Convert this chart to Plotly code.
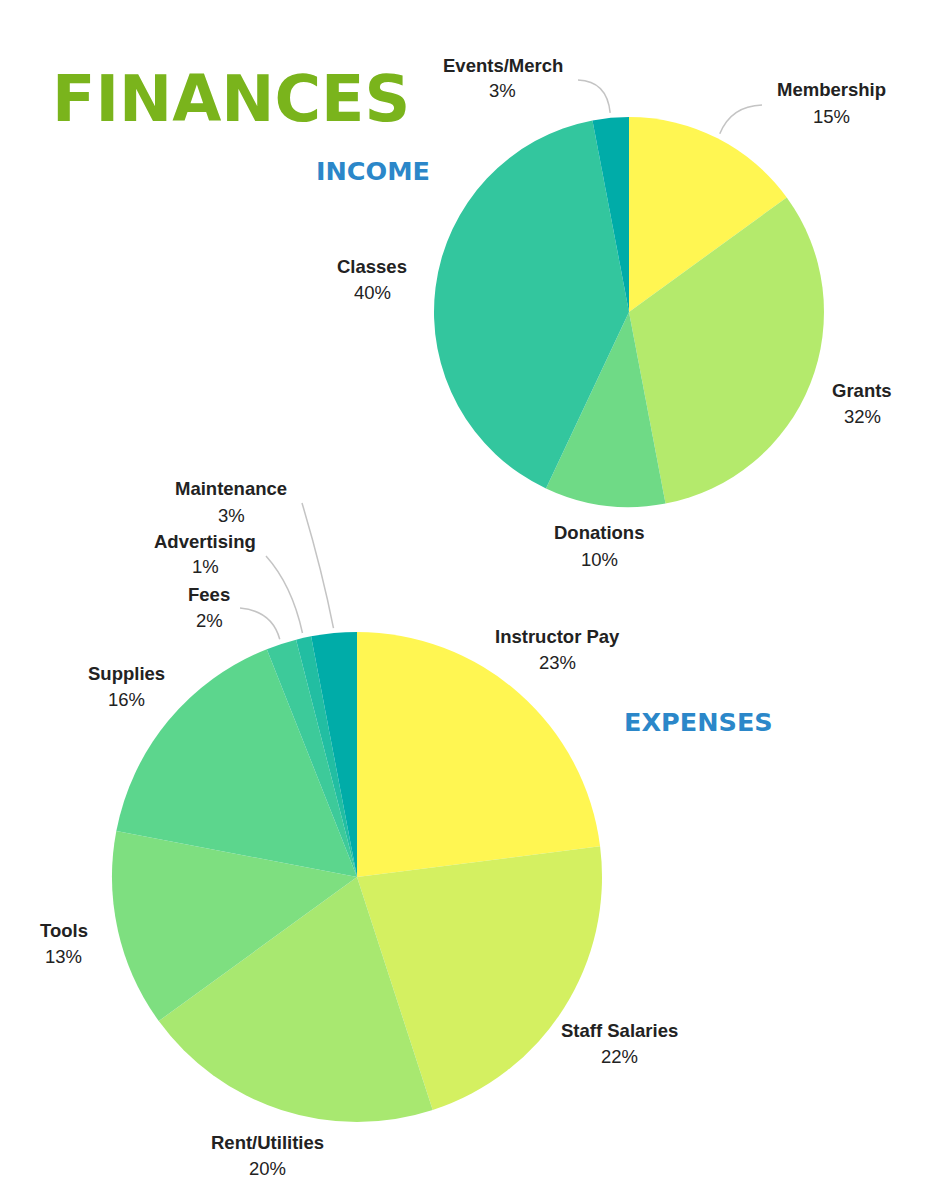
import math
import plotly.graph_objects as go

W, H = 927, 1200

# ---------------- data ----------------
income_labels = ["Membership", "Grants", "Donations", "Classes", "Events/Merch"]
income_values = [15, 32, 10, 40, 3]
income_colors = ["#FFF652", "#B4EA6C", "#6FDA86", "#33C69E", "#00ACA8"]

expense_labels = ["Instructor Pay", "Staff Salaries", "Rent/Utilities", "Tools",
                  "Supplies", "Fees", "Advertising", "Maintenance"]
expense_values = [23, 22, 20, 13, 16, 2, 1, 3]
expense_colors = ["#FFF652", "#D4F061", "#A8E870", "#7EDF80", "#5CD68D",
                  "#3DCA9A", "#22BEA2", "#00ACA8"]

# ---------------- layout (pixels) ----------------
inc_c, inc_r = (629, 312), 195
exp_c, exp_r = (357, 877), 245

# label name-line positions (percent line is +26 px)
inc_label_pos = {"Membership": (831, 90), "Grants": (862, 391), "Donations": (599, 533),
                 "Classes": (372, 266), "Events/Merch": (503, 65)}
exp_label_pos = {"Instructor Pay": (557, 636), "Staff Salaries": (619, 1030),
                 "Rent/Utilities": (267, 1142), "Tools": (64, 930), "Supplies": (126, 673),
                 "Fees": (209, 594), "Advertising": (205, 541), "Maintenance": (231, 489)}
# leader lines: (control point, end point) in px
inc_leaders = {"Membership": ((731, 106), (762, 105)), "Events/Merch": ((607, 81), (578, 80))}
exp_leaders = {"Maintenance": ((322, 570), (302, 503)), "Advertising": ((292, 585), (266, 556)),
               "Fees": ((272, 611), (240, 608))}


def px(x):
    return x / W


def py(y):
    return 1 - y / H


def domain(c, r):
    return dict(x=[px(c[0] - r), px(c[0] + r)], y=[py(c[1] + r), py(c[1] - r)])


fig = go.Figure()
fig.add_trace(go.Pie(labels=income_labels, values=income_values, sort=False,
                     direction="clockwise", rotation=0,
                     marker=dict(colors=income_colors, line=dict(width=0)),
                     textinfo="none", hoverinfo="label+percent",
                     domain=domain(inc_c, inc_r), showlegend=False))
fig.add_trace(go.Pie(labels=expense_labels, values=expense_values, sort=False,
                     direction="clockwise", rotation=0,
                     marker=dict(colors=expense_colors, line=dict(width=0)),
                     textinfo="none", hoverinfo="label+percent",
                     domain=domain(exp_c, exp_r), showlegend=False))

annotations = []
shapes = []


def add_labels(labels, values, centre, radius, pos, leaders):
    total = sum(values)
    cum = 0
    for lab, v in zip(labels, values):
        mid = (cum + v / 2) / total * 2 * math.pi
        cum += v
        pct = round(v / total * 100)
        x, y = pos[lab]
        annotations.append(dict(x=px(x), y=py(y), xref="paper", yref="paper",
                                text="<b>%s</b>" % lab, showarrow=False,
                                xanchor="center", yanchor="middle",
                                font=dict(family="Liberation Sans, Arial", size=18.5, color="#222222")))
        annotations.append(dict(x=px(x), y=py(y + 26), xref="paper", yref="paper",
                                text="%d%%" % pct, showarrow=False,
                                xanchor="center", yanchor="middle",
                                font=dict(family="Liberation Sans, Arial", size=18.5, color="#222222")))
        if lab in leaders:
            sx = centre[0] + (radius + 5) * math.sin(mid)
            sy = centre[1] - (radius + 5) * math.cos(mid)
            (cx, cy), (ex, ey) = leaders[lab]
            path = "M %f,%f Q %f,%f %f,%f" % (px(sx), py(sy), px(cx), py(cy), px(ex), py(ey))
            shapes.append(dict(type="path", path=path, xref="paper", yref="paper",
                               line=dict(color="#C4C4C4", width=1.5)))


add_labels(income_labels, income_values, inc_c, inc_r, inc_label_pos, inc_leaders)
add_labels(expense_labels, expense_values, exp_c, exp_r, exp_label_pos, exp_leaders)

annotations.append(dict(x=px(50), y=py(99), xref="paper", yref="paper", text="<b>FINANCES</b>",
                        showarrow=False, xanchor="left", yanchor="middle",
                        font=dict(family="DejaVu Sans", size=63.5, color="#7AB41C")))
annotations.append(dict(x=px(373), y=py(171), xref="paper", yref="paper", text="<b>INCOME</b>",
                        showarrow=False, xanchor="center", yanchor="middle",
                        font=dict(family="DejaVu Sans", size=25.5, color="#2B87C9")))
annotations.append(dict(x=px(698), y=py(722), xref="paper", yref="paper", text="<b>EXPENSES</b>",
                        showarrow=False, xanchor="center", yanchor="middle",
                        font=dict(family="DejaVu Sans", size=25.5, color="#2B87C9")))

fig.update_layout(width=W, height=H, margin=dict(l=0, r=0, t=0, b=0),
                  paper_bgcolor="white", plot_bgcolor="white",
                  annotations=annotations, shapes=shapes, showlegend=False)

fig.write_html("out.html", config={"displayModeBar": False})
